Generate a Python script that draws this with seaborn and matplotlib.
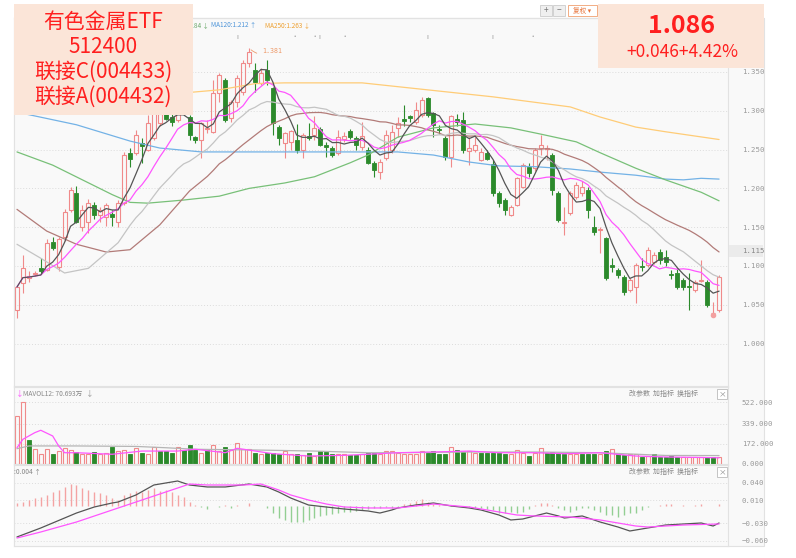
import numpy as np
import pandas as pd
import seaborn as sns
import matplotlib.pyplot as plt
from matplotlib.patches import Rectangle

# ---- candles (119 trading days) ----
opens = [1.043, 1.078, 1.085, 1.090, 1.097, 1.095, 1.131, 1.099, 1.137, 1.172,
         1.194, 1.150, 1.157, 1.179, 1.166, 1.163, 1.167, 1.157, 1.181, 1.246,
         1.246, 1.258, 1.250, 1.265, 1.284, 1.300, 1.292, 1.288, 1.305, 1.292,
         1.266, 1.262, 1.276, 1.273, 1.323, 1.340, 1.291, 1.311, 1.324, 1.362,
         1.353, 1.336, 1.353, 1.329, 1.279, 1.258, 1.260, 1.262, 1.250, 1.268,
         1.269, 1.277, 1.256, 1.252, 1.246, 1.264, 1.274, 1.265, 1.253, 1.250,
         1.233, 1.221, 1.239, 1.250, 1.278, 1.289, 1.293, 1.285, 1.295, 1.316,
         1.297, 1.277, 1.265, 1.240, 1.289, 1.288, 1.248, 1.249, 1.237, 1.246,
         1.232, 1.194, 1.185, 1.166, 1.179, 1.202, 1.228, 1.226, 1.252, 1.251,
         1.243, 1.194, 1.155, 1.168, 1.189, 1.194, 1.198, 1.150, 1.146, 1.136,
         1.101, 1.095, 1.086, 1.069, 1.073, 1.100, 1.101, 1.105, 1.118, 1.112,
         1.090, 1.091, 1.082, 1.074, 1.069, 1.081, 1.080, 1.039, 1.043]
highs = [1.075, 1.114, 1.094, 1.094, 1.110, 1.135, 1.138, 1.138, 1.173, 1.202,
         1.203, 1.178, 1.186, 1.183, 1.176, 1.181, 1.172, 1.185, 1.247, 1.252,
         1.275, 1.265, 1.295, 1.305, 1.312, 1.318, 1.300, 1.312, 1.316, 1.295,
         1.268, 1.286, 1.288, 1.340, 1.349, 1.342, 1.314, 1.346, 1.365, 1.381,
         1.362, 1.355, 1.365, 1.331, 1.282, 1.273, 1.275, 1.283, 1.271, 1.284,
         1.293, 1.279, 1.260, 1.255, 1.275, 1.273, 1.276, 1.268, 1.285, 1.253,
         1.235, 1.238, 1.275, 1.282, 1.292, 1.307, 1.295, 1.311, 1.318, 1.318,
         1.298, 1.282, 1.268, 1.295, 1.296, 1.298, 1.266, 1.266, 1.252, 1.250,
         1.237, 1.197, 1.188, 1.178, 1.215, 1.233, 1.233, 1.252, 1.269, 1.256,
         1.246, 1.197, 1.176, 1.197, 1.208, 1.210, 1.202, 1.165, 1.150, 1.138,
         1.110, 1.097, 1.088, 1.084, 1.104, 1.110, 1.124, 1.118, 1.122, 1.120,
         1.095, 1.097, 1.084, 1.091, 1.082, 1.108, 1.082, 1.053, 1.088]
lows = [1.033, 1.065, 1.079, 1.087, 1.090, 1.093, 1.120, 1.093, 1.132, 1.170,
        1.155, 1.145, 1.143, 1.160, 1.157, 1.151, 1.151, 1.150, 1.179, 1.228,
        1.243, 1.233, 1.248, 1.262, 1.280, 1.288, 1.280, 1.285, 1.294, 1.262,
        1.259, 1.239, 1.271, 1.271, 1.311, 1.286, 1.286, 1.305, 1.320, 1.357,
        1.324, 1.333, 1.333, 1.269, 1.256, 1.239, 1.250, 1.246, 1.239, 1.262,
        1.262, 1.254, 1.240, 1.240, 1.243, 1.260, 1.264, 1.250, 1.250, 1.231,
        1.215, 1.212, 1.236, 1.245, 1.266, 1.280, 1.285, 1.283, 1.292, 1.292,
        1.266, 1.270, 1.237, 1.227, 1.281, 1.246, 1.230, 1.247, 1.235, 1.236,
        1.190, 1.176, 1.166, 1.164, 1.177, 1.200, 1.215, 1.222, 1.243, 1.237,
        1.192, 1.157, 1.140, 1.166, 1.186, 1.190, 1.162, 1.140, 1.117, 1.082,
        1.092, 1.085, 1.062, 1.066, 1.052, 1.093, 1.099, 1.103, 1.103, 1.100,
        1.083, 1.070, 1.069, 1.043, 1.067, 1.080, 1.047, 1.034, 1.041]
closes = [1.073, 1.097, 1.087, 1.091, 1.094, 1.130, 1.123, 1.135, 1.170, 1.198,
          1.157, 1.172, 1.181, 1.166, 1.172, 1.179, 1.163, 1.181, 1.243, 1.238,
          1.269, 1.255, 1.284, 1.298, 1.296, 1.290, 1.285, 1.305, 1.298, 1.269,
          1.262, 1.284, 1.278, 1.323, 1.346, 1.288, 1.311, 1.342, 1.362, 1.376,
          1.337, 1.349, 1.340, 1.284, 1.265, 1.271, 1.274, 1.250, 1.269, 1.265,
          1.278, 1.256, 1.253, 1.243, 1.266, 1.268, 1.266, 1.256, 1.268, 1.233,
          1.224, 1.234, 1.269, 1.273, 1.284, 1.287, 1.291, 1.301, 1.314, 1.295,
          1.282, 1.275, 1.240, 1.293, 1.286, 1.250, 1.252, 1.256, 1.247, 1.238,
          1.194, 1.181, 1.172, 1.176, 1.213, 1.230, 1.220, 1.250, 1.256, 1.252,
          1.198, 1.159, 1.157, 1.194, 1.204, 1.202, 1.172, 1.144, 1.148, 1.085,
          1.099, 1.088, 1.066, 1.082, 1.101, 1.099, 1.121, 1.114, 1.108, 1.105,
          1.088, 1.073, 1.073, 1.073, 1.080, 1.082, 1.050, 1.040, 1.086]

# volume, in 万
volumes = [404, 522, 202, 126, 84, 126, 84, 109, 135, 118,
           101, 84, 84, 101, 84, 93, 143, 109, 118, 84,
           135, 93, 84, 143, 109, 109, 93, 143, 118, 160,
           118, 93, 126, 160, 109, 143, 118, 177, 126, 126,
           93, 84, 93, 93, 84, 109, 84, 84, 76, 93,
           67, 109, 101, 84, 84, 84, 76, 76, 84, 93,
           93, 84, 109, 109, 93, 82, 82, 82, 109, 95,
           109, 87, 82, 146, 118, 104, 109, 95, 95, 95,
           90, 90, 82, 82, 118, 95, 67, 95, 137, 95,
           101, 90, 82, 82, 82, 82, 82, 82, 82, 109,
           124, 82, 76, 82, 82, 55, 67, 82, 55, 60,
           65, 60, 60, 60, 60, 60, 60, 60, 63]

macd_hist = [0.0046, 0.0075, 0.0103, 0.0132, 0.0161, 0.0190, 0.0236, 0.0276, 0.0333, 0.0385,
             0.0362, 0.0305, 0.0276, 0.0247, 0.0218, 0.0190, 0.0132, 0.0103, 0.0190, 0.0218,
             0.0259, 0.0247, 0.0276, 0.0305, 0.0259, 0.0276, 0.0236, 0.0190, 0.0161, 0.0075,
             0.0017, -0.0023, -0.0052, -0.0005, -0.0017, 0.0010, -0.0029, 0.0017, 0.0006, 0.0046,
             0.0006, 0.0003, -0.0029, -0.0126, -0.0213, -0.0241, -0.0270, -0.0282, -0.0270, -0.0241,
             -0.0201, -0.0172, -0.0155, -0.0144, -0.0126, -0.0109, -0.0098, -0.0086, -0.0069, -0.0052,
             -0.0040, -0.0029, -0.0011, -0.0029, -0.0011, 0.0034, 0.0057, 0.0092, 0.0115, 0.0063,
             0.0034, 0.0017, 0.0003, 0.0011, -0.0006, -0.0017, -0.0011, -0.0029, -0.0040, -0.0057,
             -0.0069, -0.0115, -0.0115, -0.0098, -0.0126, -0.0098, -0.0057, 0.0017, 0.0046, 0.0046,
             0.0017, -0.0040, -0.0069, -0.0098, -0.0069, -0.0040, -0.0040, -0.0069, -0.0098, -0.0155,
             -0.0155, -0.0184, -0.0155, -0.0126, -0.0115, -0.0069, -0.0023, 0.0005, 0.0017, 0.0029,
             0.0029, 0.0006, 0.0011, 0.0005, 0.0017, 0.0034, 0.0003, 0.0006, 0.0029]

# long moving averages / indicator lines (index, value)
ma20_head_idx = [0, 4, 8, 12, 17]
ma20_head = [1.128, 1.110, 1.091, 1.097, 1.130]
ma30_head_idx = [0, 5, 10, 15, 19, 24]
ma30_head = [1.173, 1.145, 1.128, 1.118, 1.121, 1.153]
ma60_idx = [0, 6, 11, 16, 19, 22, 28, 34, 39, 45, 50, 56, 59, 64, 70, 77, 83, 88, 94, 98, 104, 109, 115, 118]
ma60 = [1.247, 1.230, 1.211, 1.192, 1.182, 1.181, 1.185, 1.190, 1.200, 1.207, 1.215, 1.233,
        1.243, 1.266, 1.278, 1.283, 1.278, 1.270, 1.260, 1.246, 1.226, 1.211, 1.195, 1.184]
ma120_idx = [0, 2, 10, 19, 24, 31, 47, 64, 70, 76, 81, 87, 93, 98, 104, 109, 112, 115, 118]
ma120 = [1.298, 1.295, 1.282, 1.261, 1.252, 1.247, 1.247, 1.247, 1.243, 1.234, 1.229, 1.228,
         1.225, 1.221, 1.217, 1.212, 1.211, 1.213, 1.212]
ma250_idx = [0, 15, 28, 34, 40, 45, 51, 58, 69, 80, 88, 93, 98, 104, 109, 118]
ma250 = [1.318, 1.319, 1.323, 1.327, 1.335, 1.336, 1.336, 1.336, 1.327, 1.318, 1.310, 1.305,
         1.292, 1.279, 1.273, 1.263]

dif_idx = [0, 4, 10, 13, 16, 17, 20, 23, 27, 29, 32, 35, 39, 42, 44, 46, 49, 55, 59, 61, 63, 64,
           67, 70, 73, 76, 78, 81, 83, 85, 87, 89, 91, 92, 95, 98, 101, 103, 106, 109, 115, 117, 118]
dif = [-0.0534, -0.0379, -0.0121, -0.0017, 0.0052, 0.0069, 0.0190, 0.0362, 0.0431, 0.0362, 0.0328,
       0.0328, 0.0379, 0.0328, 0.0241, 0.0138, 0.0017, -0.0052, -0.0086, -0.0121, -0.0069, -0.0034,
       0.0017, 0.0052, 0.0000, -0.0034, -0.0069, -0.0155, -0.0241, -0.0224, -0.0172, -0.0121,
       -0.0172, -0.0207, -0.0172, -0.0276, -0.0362, -0.0431, -0.0379, -0.0328, -0.0293, -0.0345, -0.0293]
dea_idx = [0, 4, 10, 16, 21, 27, 29, 32, 38, 41, 44, 46, 49, 52, 55, 59, 64, 70, 76, 81, 84, 87,
           93, 98, 104, 106, 112, 118]
dea = [-0.0552, -0.0448, -0.0276, -0.0069, 0.0103, 0.0310, 0.0379, 0.0362, 0.0362, 0.0379, 0.0276,
       0.0190, 0.0103, 0.0034, -0.0017, -0.0034, -0.0034, 0.0034, -0.0017, -0.0103, -0.0155, -0.0172,
       -0.0190, -0.0241, -0.0345, -0.0362, -0.0328, -0.0310]

mavol5_idx = [0, 1, 3, 4, 6, 7, 8, 10, 16, 21, 27, 30, 35, 37, 43, 49, 55, 59, 64, 70, 76, 81, 87,
              92, 98, 104, 109, 115, 118]
mavol5 = [137, 208, 264, 284, 236, 152, 95, 95, 82, 109, 109, 124, 95, 132, 87, 67, 73, 82, 95,
          101, 109, 95, 95, 87, 95, 67, 59, 55, 52]
mavol12_idx = [0, 2, 10, 20, 25, 30, 40, 50, 59, 64, 76, 87, 98, 109, 118]
mavol12 = [129, 152, 152, 148, 137, 124, 118, 109, 95, 95, 101, 101, 95, 72, 71]

price_ticks = [1.000, 1.050, 1.100, 1.150, 1.200, 1.250, 1.300, 1.350]
vol_ticks = [0, 172, 339, 522]
macd_ticks = [-0.060, -0.030, 0.010, 0.040]

# ---- styling ----
sns.set_theme(style="white")
plt.rcParams['font.family'] = ['Noto Sans CJK SC', 'DejaVu Sans']
plt.rcParams['axes.unicode_minus'] = False

UP = '#f08a8a'
DOWN = '#2b8a2b'
BG = '#f9f9f9'
W, H = 796, 558

df = pd.DataFrame({'open': opens, 'high': highs, 'low': lows, 'close': closes,
                   'volume': volumes, 'hist': macd_hist})
df['idx'] = np.arange(len(df))
df['ma5'] = df['close'].rolling(5, min_periods=1).mean()
df['ma10'] = df['close'].rolling(10, min_periods=1).mean()


def long_ma(head_idx, head_vals, window):
    full = df['close'].rolling(window).mean()
    tail = pd.DataFrame({'idx': df['idx'][window - 1:], 'v': full[window - 1:]})
    head = pd.DataFrame({'idx': head_idx, 'v': head_vals})
    return pd.concat([head, tail], ignore_index=True)


ma20 = long_ma(ma20_head_idx, ma20_head, 20)
ma30 = long_ma(ma30_head_idx, ma30_head, 30)

fig = plt.figure(figsize=(W / 100, H / 100), dpi=100)
fig.patch.set_facecolor('white')


def fbox(x0, y0, x1, y1, **kw):
    fig.add_artist(Rectangle((x0 / W, 1 - y1 / H), (x1 - x0) / W, (y1 - y0) / H,
                             transform=fig.transFigure, **kw))


def ftext(x, y, s, **kw):
    fig.text(x / W, 1 - y / H, s, **kw)


fbox(14, 18, 764, 546, facecolor=BG, edgecolor='#e2e2e2', lw=0.8, zorder=-1)

ax = fig.add_axes([14 / W, 1 - 386 / H, 714 / W, 368 / H])
axv = fig.add_axes([14 / W, 1 - 464 / H, 714 / W, 77 / H])
axm = fig.add_axes([14 / W, 1 - 546 / H, 714 / W, 81 / H])

for a in (ax, axv, axm):
    a.set_facecolor(BG)
    a.set_xlim(-0.5, 119.5)
    a.set_xticks([])
    for s in a.spines.values():
        s.set_color('#e2e2e2')
        s.set_linewidth(0.8)
    a.yaxis.tick_right()
    a.tick_params(axis='y', length=0, pad=10, labelsize=5.3, colors='#999999')
    a.grid(axis='y', linestyle=(0, (1, 2)), color='#dcdcdc', linewidth=0.7)
    a.set_axisbelow(True)

# ---- main candle panel ----
ax.set_ylim(1.35 - (386 - 72) / 776, 1.35 + (72 - 18) / 776)
ax.set_yticks(price_ticks)
ax.set_yticklabels([f'{t:.3f}' for t in price_ticks], family='DejaVu Sans Mono')

up = df['close'] >= df['open']
bot = np.minimum(df['open'], df['close'])
top = np.maximum(df['open'], df['close'])
hgt = np.maximum(top - bot, 0.0007)
for mask, col in ((up, UP), (~up, DOWN)):
    ax.vlines(df['idx'][mask], df['low'][mask], bot[mask], color=col, lw=0.8, zorder=2)
    ax.vlines(df['idx'][mask], top[mask], df['high'][mask], color=col, lw=0.8, zorder=2)
ax.bar(df['idx'][up], hgt[up], bottom=bot[up], width=0.68, facecolor='none',
       edgecolor=UP, linewidth=0.8, zorder=2)
ax.bar(df['idx'][~up], hgt[~up], bottom=bot[~up], width=0.68, facecolor=DOWN,
       edgecolor=DOWN, linewidth=0.6, zorder=2)

lines = [
    (ma250_idx, ma250, '#ffcc77'),
    (ma120_idx, ma120, '#73b2e6'),
    (ma60_idx, ma60, '#78c078'),
    (ma30['idx'], ma30['v'], '#b27b78'),
    (ma20['idx'], ma20['v'], '#c4c4c4'),
    (df['idx'], df['ma10'], '#ff55ff'),
    (df['idx'], df['ma5'], '#555555'),
]
for xs, ys, col in lines:
    sns.lineplot(x=list(xs), y=list(ys), ax=ax, color=col, linewidth=0.9,
                 estimator=None, sort=False, zorder=3)

ax.annotate('1.381', xy=(39, 1.381), xytext=(41.3, 1.3775), fontsize=4.8, color='#ee9a6a',
            va='center', family='DejaVu Sans Mono',
            arrowprops=dict(arrowstyle='-', color='#ee9a6a', lw=0.6,
                            connectionstyle='arc3,rad=-0.4'))
ax.plot([117], [1.037], 'o', ms=3, color='#f3a0a0', zorder=4)

# ---- volume panel ----
axv.set_ylim(0, 77 * 8.42)
axv.set_yticks(vol_ticks)
axv.set_yticklabels([f'{t:.3f}' for t in vol_ticks], family='DejaVu Sans Mono')
vol_up = df['close'].diff().fillna(1) >= 0
axv.bar(df['idx'][vol_up], df['volume'][vol_up], width=0.68, facecolor='none',
        edgecolor=UP, linewidth=0.8)
axv.bar(df['idx'][~vol_up], df['volume'][~vol_up], width=0.68, facecolor=DOWN,
        edgecolor=DOWN, linewidth=0.6)
sns.lineplot(x=mavol12_idx, y=mavol12, ax=axv, color='#b5b5b5', linewidth=0.9, estimator=None)
sns.lineplot(x=mavol5_idx, y=mavol5, ax=axv, color='#ff55ff', linewidth=0.9, estimator=None)

# ---- MACD panel ----
axm.set_ylim((506 - 546) / 580, (506 - 465) / 580)
axm.set_yticks(macd_ticks)
axm.set_yticklabels([f'{t:.3f}'.replace('-', '\u2212') for t in macd_ticks], family='DejaVu Sans Mono')
hist_col = np.where(df['hist'] >= 0, '#f4a3a3', '#93cf93')
axm.vlines(df['idx'], 0, df['hist'], colors=hist_col, lw=1.0)
sns.lineplot(x=dif_idx, y=dif, ax=axm, color='#555555', linewidth=0.9, estimator=None)
sns.lineplot(x=dea_idx, y=dea, ax=axm, color='#ff55ff', linewidth=0.9, estimator=None)

for a in (ax, axv, axm):
    a.set_xlabel('')
    a.set_ylabel('')

# ---- chrome: toolbar, legend row, panel captions ----
fig.add_artist(plt.Line2D([14 / W, 764 / W], [1 - 18 / H, 1 - 18 / H],
                          transform=fig.transFigure, color='#e2e2e2', lw=0.8))
fbox(540, 5, 552, 16, facecolor='#efefef', edgecolor='#cccccc', lw=0.6)
fbox(553, 5, 565, 16, facecolor='#efefef', edgecolor='#cccccc', lw=0.6)
fbox(568, 5, 597, 16, facecolor='white', edgecolor='#f0a070', lw=0.6)
ftext(546, 10.5, '+', fontsize=6, color='#777777', ha='center', va='center')
ftext(559, 10.5, '\u2212', fontsize=6, color='#777777', ha='center', va='center')
ftext(582, 10.5, '复权 ▾', fontsize=4.8, color='#e8743b', ha='center', va='center')

# legend row; its left part sits under the name box, as in the screenshot
ftext(209, 25, 'MA60:1.184 ↓', fontsize=4.6, color='#6aa86a', ha='right', va='center')
ftext(211, 25, 'MA120:1.212 ↑', fontsize=4.6, color='#4d94d8', va='center')
ftext(265, 25, 'MA250:1.263 ↓', fontsize=4.6, color='#eea030', va='center')
for x in (237, 319, 427, 492):
    ftext(x, 37, 'ı', fontsize=5, color='#999999', ha='center', va='center')
for x in (295, 315, 345, 533):
    ftext(x, 37, '•', fontsize=4.5, color='#999999', ha='center', va='center')

fbox(729, 245, 763, 257, facecolor='#ebebeb', edgecolor='none')
ftext(742, 251, '1.115', fontsize=5.3, color='#888888', va='center', family='DejaVu Sans Mono')

ftext(16, 394, '↓', fontsize=5.5, color='#ff55ff', va='center')
ftext(23, 394, 'MAVOL12: 70.693万', fontsize=4.8, color='#888888', va='center')
ftext(86, 394, '↓', fontsize=5.5, color='#999999', va='center')
ftext(14, 472, ':0.004 ↑', fontsize=4.8, color='#888888', va='center')
for yy in (394, 472):
    ftext(629, yy, '改参数  加指标  换指标', fontsize=5, color='#888888', va='center')
    fbox(717, yy - 5, 727, yy + 5, facecolor='white', edgecolor='#bbbbbb', lw=0.6)
    ftext(722, yy, '×', fontsize=5.5, color='#888888', ha='center', va='center')

# ---- overlay boxes ----
RED = '#ff1f1f'
fbox(14, 4, 193, 115, facecolor='#fbe5d8', edgecolor='none', zorder=10)
for yy, s in ((22, '有色金属ETF'), (47, '512400'), (72, '联接C(004433)'), (97, '联接A(004432)')):
    fig.text(103 / W, 1 - yy / H, s, fontsize=15, color=RED, ha='center', va='center', zorder=11)

fbox(598, 4, 764, 68, facecolor='#fbe5d8', edgecolor='none', zorder=10)
fig.text(682 / W, 1 - 26 / H, '1.086', fontsize=18, fontweight='bold', color=RED,
         ha='center', va='center', zorder=11)
fig.text(682 / W, 1 - 52 / H, '+0.046+4.42%', fontsize=12.5, color=RED,
         ha='center', va='center', zorder=11)

fig.savefig('out.png', dpi=100)
